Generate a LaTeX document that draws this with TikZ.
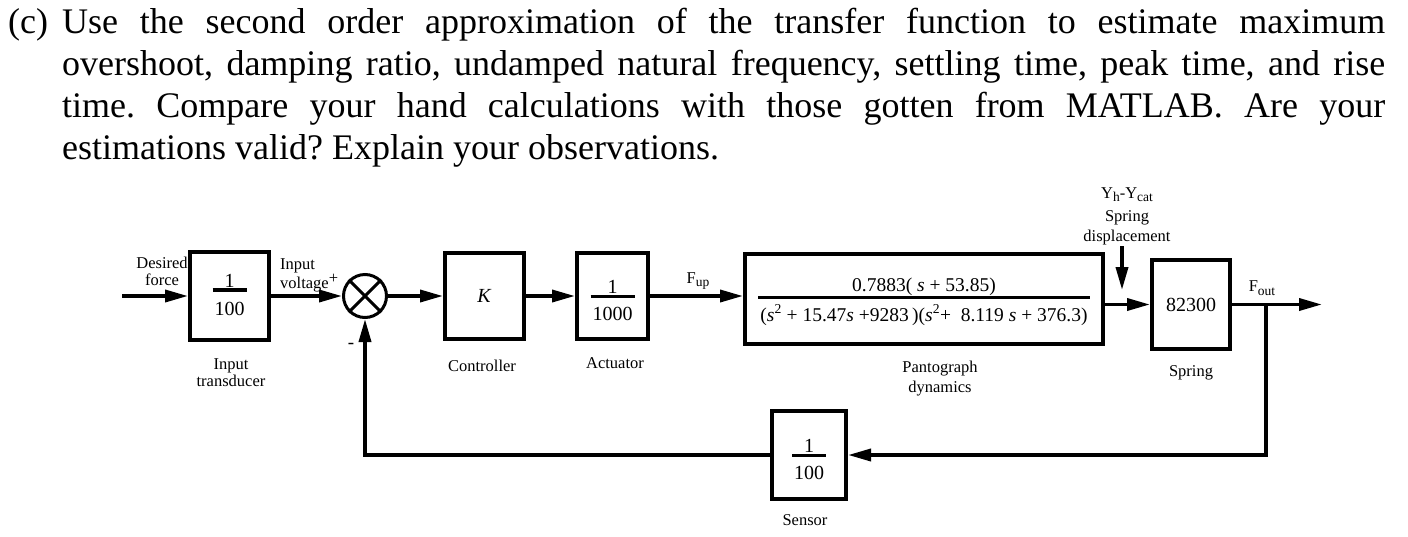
\documentclass[tikz,border=0pt]{standalone}
\usepackage{fontspec}
\setmainfont{Liberation Serif}
\usetikzlibrary{arrows.meta}
\newcommand\blkfrac[3][3pt]{{\setlength\arrayrulewidth{#1}\setlength\tabcolsep{2pt}\renewcommand\arraystretch{0}\begin{tabular}{c}\rule[-1pt]{0pt}{24pt}#2\\\hline\rule[-1pt]{0pt}{24pt}#3\end{tabular}}}
\newcommand\lsub[1]{\raisebox{-3.5pt}{\fontsize{13.5}{14}\selectfont #1}}
\begin{document}
\begin{tikzpicture}[x=1pt,y=-1pt,
  block/.style={draw,line width=3.6pt,inner sep=0pt,font=\fontsize{20}{22}\selectfont},
  lbl/.style={inner sep=0pt,align=center,font=\fontsize{16.5}{17}\selectfont},
  sig/.style={line width=3.6pt,-{Triangle[length=23pt,width=12pt]}},
  wire/.style={line width=3.6pt}]
\useasboundingbox (0,0) rectangle (1408,536);

\node [anchor=base west,inner sep=0pt] (task) at (8,33) {\parbox[t]{1377pt}{\fontsize{36}{42}\selectfont\frenchspacing\hangindent=54pt\hangafter=1\noindent\makebox[54pt][l]{(c)}Use the second order approximation of the transfer function to estimate maximum\linebreak overshoot, damping ratio, undamped natural frequency, settling time, peak time, and rise\linebreak time. Compare your hand calculations with those gotten from MATLAB. Are your\linebreak estimations valid? Explain your observations.}};

\node [block,minimum width=79.4pt,minimum height=88.4pt] (tr) at (229.5,296) {\raisebox{6pt}[\height][\depth]{\blkfrac[4pt]{1}{100}}};
\node [draw,circle,line width=3pt,minimum size=43pt,inner sep=0pt] (sum) at (365,296) {};
\node [block,minimum width=79.4pt,minimum height=86.4pt] (ctl) at (484.5,296) {\textit{K}};
\node [block,minimum width=71.4pt,minimum height=86.4pt] (act) at (612.5,296) {\blkfrac{1}{1000}};
\node [block,minimum width=358.4pt,minimum height=90.4pt,font=\fontsize{19.5}{21}\selectfont] (pan) at (924,299) {\raisebox{2pt}[\height][\depth]{\blkfrac{0.7883( \textit{s} + 53.85)}{(\textit{s}\textsuperscript{2} + 15.47\textit{s} +9283\,)(\textit{s}\textsuperscript{2}+ \ 8.119 \textit{s} + 376.3)}}};
\node [block,minimum width=78.4pt,minimum height=89.4pt] (spr) at (1191,304.5) {82300};
\node [block,minimum width=74.4pt,minimum height=88.4pt] (sen) at (809,455) {\blkfrac{1}{100}};

\coordinate (in) at (122,296);
\coordinate (out) at (1322,304.5);
\coordinate (br) at (1266,304.5);
\coordinate (dtop) at (1122,246);
\coordinate (dbot) at (1122,290);

\node [lbl] (desf) at (162,271) {Desired\\force};
\node [lbl,align=left,anchor=west] (inv) at (280,275) {Input\\voltage\raisebox{5pt}{+}};
\node [lbl,font=\fontsize{19}{19}\selectfont] (minus) at (351,346) {-};
\node [lbl] (fup) at (698,281) {F\lsub{up}};
\node [lbl] (fout) at (1262,288) {F\lsub{out}};
\node [lbl] (disp) at (1127,216) {Y\lsub{h}-Y\lsub{cat}\\[6pt]Spring\\[3pt]displacement};
\node [lbl] (trl) at (231,373) {Input\\transducer};
\node [lbl] (ctll) at (482,366) {Controller};
\node [lbl] (actl) at (615,363) {Actuator};
\node [lbl] (panl) at (940,379) {Pantograph\\[3pt]dynamics};
\node [lbl] (sprl) at (1191,373) {Spring};
\node [lbl] (senl) at (805,520) {Sensor};

\draw [line width=3pt] (sum.45) -- (sum.225) (sum.135) -- (sum.315);

\draw [sig] (in) -- (tr);
\draw [sig] (tr) -- (sum);
\draw [sig] (sum) -- (ctl);
\draw [sig] (ctl) -- (act);
\draw [sig] (act.east) -- (act.east -| pan.west);
\draw [sig] (spr.west -| pan.east) -- (spr.west);
\draw [sig] (dtop) -- (dbot);
\draw [sig] (spr.east) -- (out);
\draw [sig] (br) |- (sen.east);
\draw [sig] (sen.west) -| (sum.south);

\end{tikzpicture}
\end{document}
